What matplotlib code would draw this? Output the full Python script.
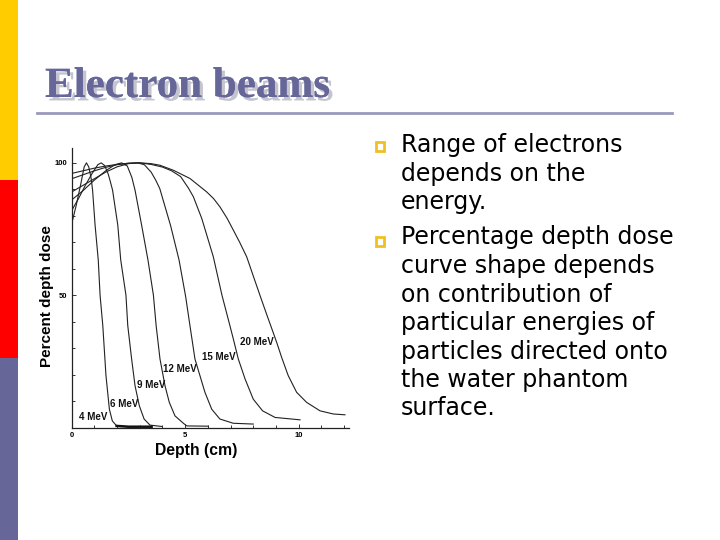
import matplotlib
matplotlib.use('Agg')
import matplotlib.pyplot as plt
import matplotlib.patheffects as pe
from matplotlib.patches import Rectangle
from matplotlib.lines import Line2D

# depth-dose curves (depth in cm, percent depth dose)
depth_4 = [0, 0.2, 0.4, 0.55, 0.65, 0.75, 0.85, 0.92, 1.03, 1.17, 1.25, 1.37, 1.51, 1.66, 1.79, 1.98, 2.5, 3.0, 3.52]
dose_4 = [77, 84, 92, 98.5, 100, 98.5, 94.5, 89.7, 76.5, 63.3, 50, 38.5, 19.6, 6.9, 2.5, 0.6, 0.3, 0.3, 0.3]

depth_6 = [0, 0.3, 0.6, 0.9, 1.15, 1.3, 1.45, 1.6, 1.7, 1.8, 2.03, 2.16, 2.39, 2.47, 2.64, 2.79, 2.98, 3.19, 3.45, 3.96]
dose_6 = [82, 86.5, 91.5, 96, 99.3, 100, 99, 96, 93, 89.7, 76.5, 63.3, 50, 38.5, 25.9, 15.8, 8.2, 3.2, 0.9, 0.4]

depth_9 = [0, 0.5, 1.0, 1.5, 1.9, 2.2, 2.45, 2.65, 2.79, 3.08, 3.36, 3.6, 3.72, 3.89, 4.11, 4.3, 4.55, 4.92, 5.07, 6.02]
dose_9 = [86, 89.5, 93.5, 97, 99.3, 100, 98.8, 94.5, 89.7, 76.5, 63.3, 50, 38.5, 25.9, 15.8, 9.5, 4.4, 1.6, 0.6, 0.5]

depth_12 = [0, 0.5, 1.0, 1.5, 2.0, 2.5, 2.9, 3.2, 3.5, 3.7, 3.88, 4.36, 4.73, 5.02, 5.21, 5.43, 5.65, 5.87, 6.17, 6.53, 7.12, 8.0]
dose_12 = [89, 91.5, 94, 96.5, 98.5, 99.7, 100, 99.3, 96.5, 93.5, 90.3, 76.2, 63.3, 49.5, 38.5, 25.9, 19.6, 13.3, 6.9, 3.2, 1.6, 1.3]

depth_15 = [0, 0.5, 1.0, 1.5, 2.0, 2.5, 3.0, 3.5, 4.0, 4.4, 4.8, 5.14, 5.36, 5.73, 6.24, 6.62, 6.97, 7.12, 7.34, 7.64, 8.0, 8.41, 8.96, 10.06]
dose_15 = [94, 95.5, 97, 98.3, 99.3, 99.9, 100, 99.4, 98.4, 97, 94.8, 90.5, 87.2, 79, 64.5, 50, 38.5, 33.5, 25.9, 18.3, 10.7, 6.3, 3.8, 2.9]

depth_20 = [0, 0.5, 1.0, 1.5, 2.0, 2.5, 3.0, 3.5, 3.89, 4.48, 5.21, 5.95, 6.25, 6.53, 6.85, 7.12, 7.4, 7.71, 8.05, 8.37, 8.6, 8.81, 9.03, 9.25, 9.54, 9.91, 10.35, 10.94, 11.53, 12.04]
dose_20 = [96, 97, 98, 98.8, 99.4, 99.8, 100, 99.7, 99.1, 97.2, 94.1, 89, 86.5, 83.4, 79, 74.6, 70, 64.5, 56, 48.1, 42.5, 37.5, 32.2, 26.5, 19.6, 13.3, 9.5, 6.3, 5.1, 4.8]

energy_labels = ['4 MeV', '6 MeV', '9 MeV', '12 MeV', '15 MeV', '20 MeV']

bullet_lines = [
    ['Range of electrons', 'depends on the', 'energy.'],
    ['Percentage depth dose', 'curve shape depends', 'on contribution of',
     'particular energies of', 'particles directed onto', 'the water phantom',
     'surface.'],
]

W, H = 720, 540
fig = plt.figure(figsize=(7.2, 5.4), dpi=100)
fig.patch.set_facecolor('white')


def fx(px):
    return px / W


def fy(py):
    return 1 - py / H


# coloured strip on the left side of the slide
for y0, y1, col in [(0, 180, '#FFCC00'), (180, 358, '#FF0000'), (358, 540, '#666699')]:
    fig.add_artist(Rectangle((0, fy(y1)), fx(18), (y1 - y0) / H,
                             transform=fig.transFigure, color=col, lw=0))

# slide title + rule
fig.text(fx(45), fy(97), 'Electron beams', fontsize=31, fontweight='bold',
         family='Liberation Serif', color='#666699', va='baseline',
         path_effects=[pe.withSimplePatchShadow(offset=(2.5, -2.5), shadow_rgbFace='#c4c4d0', alpha=1),
                       pe.Normal()])
fig.add_artist(Line2D([fx(37), fx(672)], [fy(113), fy(113)], transform=fig.transFigure,
                      color='#9999BB', lw=2))

# chart
ax = fig.add_axes([fx(71.7), fy(427.5), fx(348.6) - fx(71.7), (427.5 - 148.3) / H])
depths = [depth_4, depth_6, depth_9, depth_12, depth_15, depth_20]
doses = [dose_4, dose_6, dose_9, dose_12, dose_15, dose_20]
for d, p in zip(depths, doses):
    ax.plot(d, p, color='#222222', lw=0.8)
ax.plot(depth_4[-4:], dose_4[-4:], color='#111111', lw=1.8)  # heavy tail near the bottom

label_pos = [(0.95, 3.8), (2.3, 8.8), (3.5, 16), (4.77, 22.1), (6.46, 26.8), (8.15, 32.2)]
for lab, (lx, ly) in zip(energy_labels, label_pos):
    ax.text(lx, ly, lab, fontsize=7, fontweight='bold', ha='center', va='center',
            family='Liberation Sans', color='#111111')

ax.set_xlim(0, 12.2)
ax.set_ylim(0, 105.5)
ax.spines['top'].set_visible(False)
ax.spines['right'].set_visible(False)
for s in ('left', 'bottom'):
    ax.spines[s].set_linewidth(0.9)
    ax.spines[s].set_color('#222222')
ax.set_xticks([0, 5, 10])
ax.set_xticks(range(0, 13), minor=True)
ax.set_yticks([50, 100])
ax.set_yticks(range(10, 101, 10), minor=True)
ax.tick_params(which='both', direction='in', color='#333333', width=0.7)
ax.tick_params(which='major', length=3, labelsize=5.5, pad=3)
ax.tick_params(which='minor', length=2)
for t in ax.get_xticklabels() + ax.get_yticklabels():
    t.set_fontweight('bold')
    t.set_family('Liberation Sans')

fig.text(fx(47), fy(296), 'Percent depth dose', rotation=90, fontsize=11, fontweight='bold',
         family='Liberation Sans', ha='center', va='center')
fig.text(fx(196), fy(451), 'Depth (cm)', fontsize=11.3, fontweight='bold',
         family='Liberation Sans', ha='center', va='center')

# bullet text on the right
baselines = [[152, 181, 209.5], [244.5, 273, 301.5, 330, 358.5, 387, 415]]
bullet_y = [146.7, 241.7]
for lines, bys, by in zip(bullet_lines, baselines, bullet_y):
    fig.add_artist(Rectangle((fx(375.5), fy(by + 4.5)), fx(9), 9 / H,
                             transform=fig.transFigure, fill=False,
                             ec='#F0C020', lw=2))
    for txt, b in zip(lines, bys):
        fig.text(fx(401), fy(b), txt, fontsize=17, family='DejaVu Sans',
                 va='baseline', color='black')

fig.savefig('out.png', dpi=100)
